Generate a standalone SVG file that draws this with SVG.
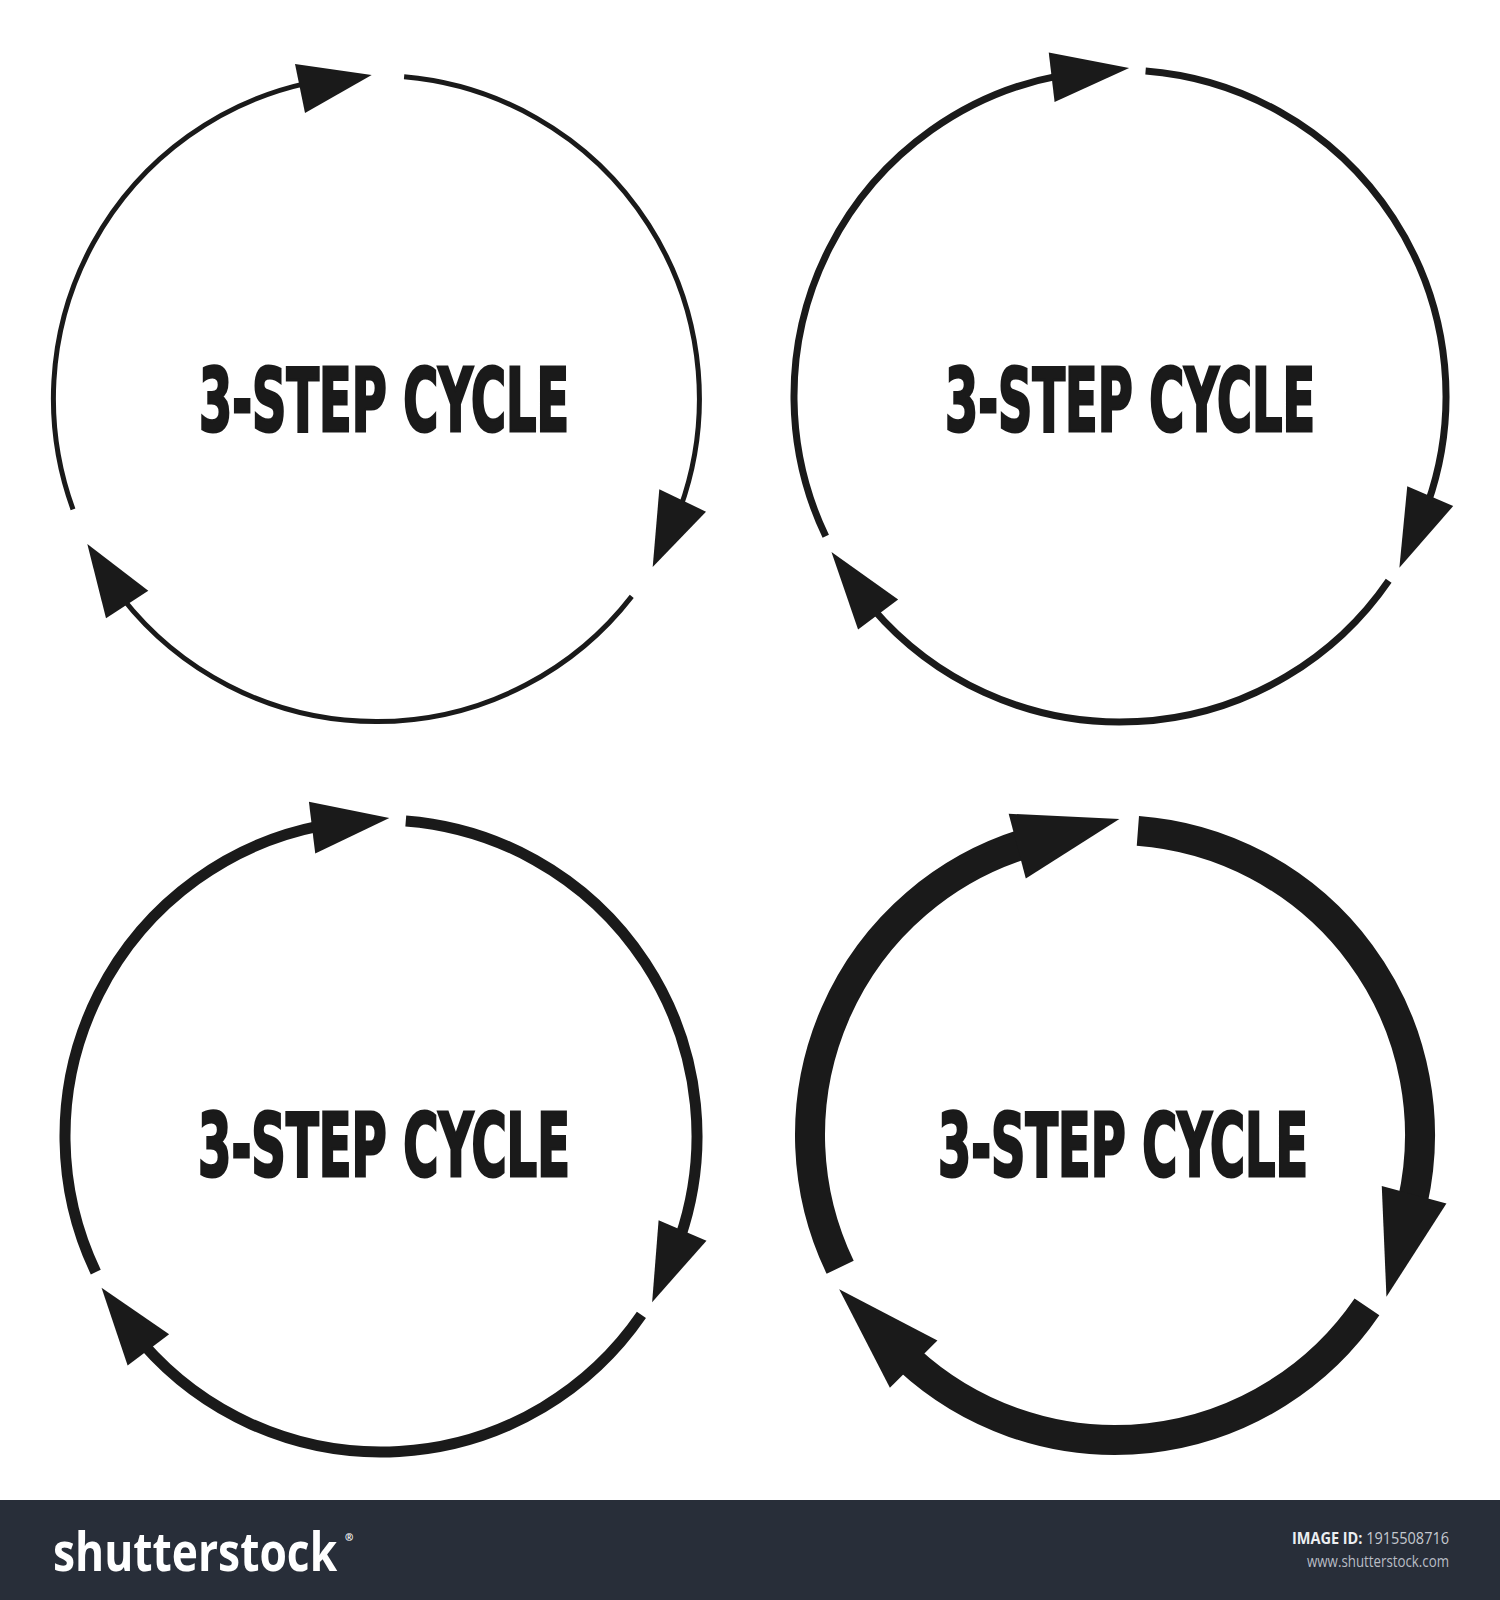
<svg xmlns="http://www.w3.org/2000/svg" width="1500" height="1600" viewBox="0 0 1500 1600">
<style>
.ring{fill:none;stroke:#1a1a1a;stroke-linecap:butt}
.head{fill:#1a1a1a;stroke:none}
.title{font-family:"Liberation Sans Narrow","DejaVu Sans Condensed","Liberation Sans",sans-serif;font-weight:bold;font-size:88px;fill:#1a1a1a;stroke:#1a1a1a;stroke-width:3;stroke-linejoin:miter}
.logo{font-family:"Open Sans","Liberation Sans",sans-serif;font-weight:bold;fill:#ffffff}
.meta{font-family:"Open Sans","Liberation Sans",sans-serif;font-size:16px}
</style>
<rect x="0" y="0" width="1500" height="1600" fill="#ffffff"/>

<!-- Cycle 1: thin -->
<g id="cycle1">
  <g id="cycle1-connectors" class="ring" stroke-width="5">
    <path d="M404.10,76.79 A323,323 0 0 1 680.11,508.54"/>
    <path d="M631.77,596.37 A323,323 0 0 1 121.97,597.58"/>
    <path d="M73.02,509.44 A323,323 0 0 1 307.37,83.07"/>
  </g>
  <polygon class="head" points="652.7,567 659.3,489.3 706,511.7"/>
  <polygon class="head" points="87.3,544 148.3,590.7 106,618.3"/>
  <polygon class="head" points="371.7,75 295,64 305,113"/>
  <text class="title" transform="translate(199 431) scale(0.6 1)" x="0" y="0" textLength="617" lengthAdjust="spacingAndGlyphs">3-STEP CYCLE</text>
</g>

<!-- Cycle 2 -->
<g id="cycle2">
  <g id="cycle2-connectors" transform="translate(1120,396)">
    <g id="c2u">
      <path class="ring" stroke-width="7" d="M25.58,-325.00 A326,326 0 0 1 307.49,108.28"/>
      <polygon class="head" points="279.37,171.87 287.26,90.32 333.18,110.08"/>
    </g>
    <use href="#c2u" transform="rotate(120)"/>
    <use href="#c2u" transform="rotate(240)"/>
  </g>
  <text class="title" transform="translate(945 431) scale(0.6 1)" x="0" y="0" textLength="617" lengthAdjust="spacingAndGlyphs">3-STEP CYCLE</text>
</g>

<!-- Cycle 3 -->
<g id="cycle3">
  <g id="cycle3-connectors" transform="translate(381,1136)">
    <g id="c3u">
      <path class="ring" stroke-width="11" d="M24.79,-315.03 A316,316 0 0 1 298.96,102.36"/>
      <polygon class="head" points="271.14,166.16 277.60,84.35 325.48,104.65"/>
    </g>
    <use href="#c3u" transform="rotate(120)"/>
    <use href="#c3u" transform="rotate(240)"/>
  </g>
  <text class="title" transform="translate(198 1176) scale(0.6 1)" x="0" y="0" textLength="620" lengthAdjust="spacingAndGlyphs">3-STEP CYCLE</text>
</g>

<!-- Cycle 4: thick -->
<g id="cycle4">
  <g id="cycle4-connectors" transform="translate(1115,1135)">
    <g id="c4u">
      <path class="ring" stroke-width="30" d="M22.87,-304.14 A305,305 0 0 1 297.42,67.57"/>
      <polygon class="head" points="271.43,161.80 266.77,51.03 331.43,68.57"/>
    </g>
    <use href="#c4u" transform="rotate(120)"/>
    <use href="#c4u" transform="rotate(240)"/>
  </g>
  <text class="title" transform="translate(938 1176) scale(0.6 1)" x="0" y="0" textLength="617" lengthAdjust="spacingAndGlyphs">3-STEP CYCLE</text>
</g>

<!-- Footer banner -->
<g id="footer">
  <rect x="0" y="1500" width="1500" height="100" fill="#282e39"/>
  <text class="logo" transform="translate(53 1571) scale(0.77 1)" x="0" y="0" font-size="54" textLength="369" lengthAdjust="spacingAndGlyphs">shutterstock</text>
  <text class="logo" x="345" y="1541" font-size="10">®</text>
  <text class="meta" x="1292" y="1544" textLength="157" lengthAdjust="spacingAndGlyphs"><tspan fill="#eceef1" font-weight="bold">IMAGE ID: </tspan><tspan fill="#c4c8cf">1915508716</tspan></text>
  <text class="meta" x="1307" y="1567" font-size="15" fill="#b9bdc5" textLength="142" lengthAdjust="spacingAndGlyphs">www.shutterstock.com</text>
</g>
</svg>
